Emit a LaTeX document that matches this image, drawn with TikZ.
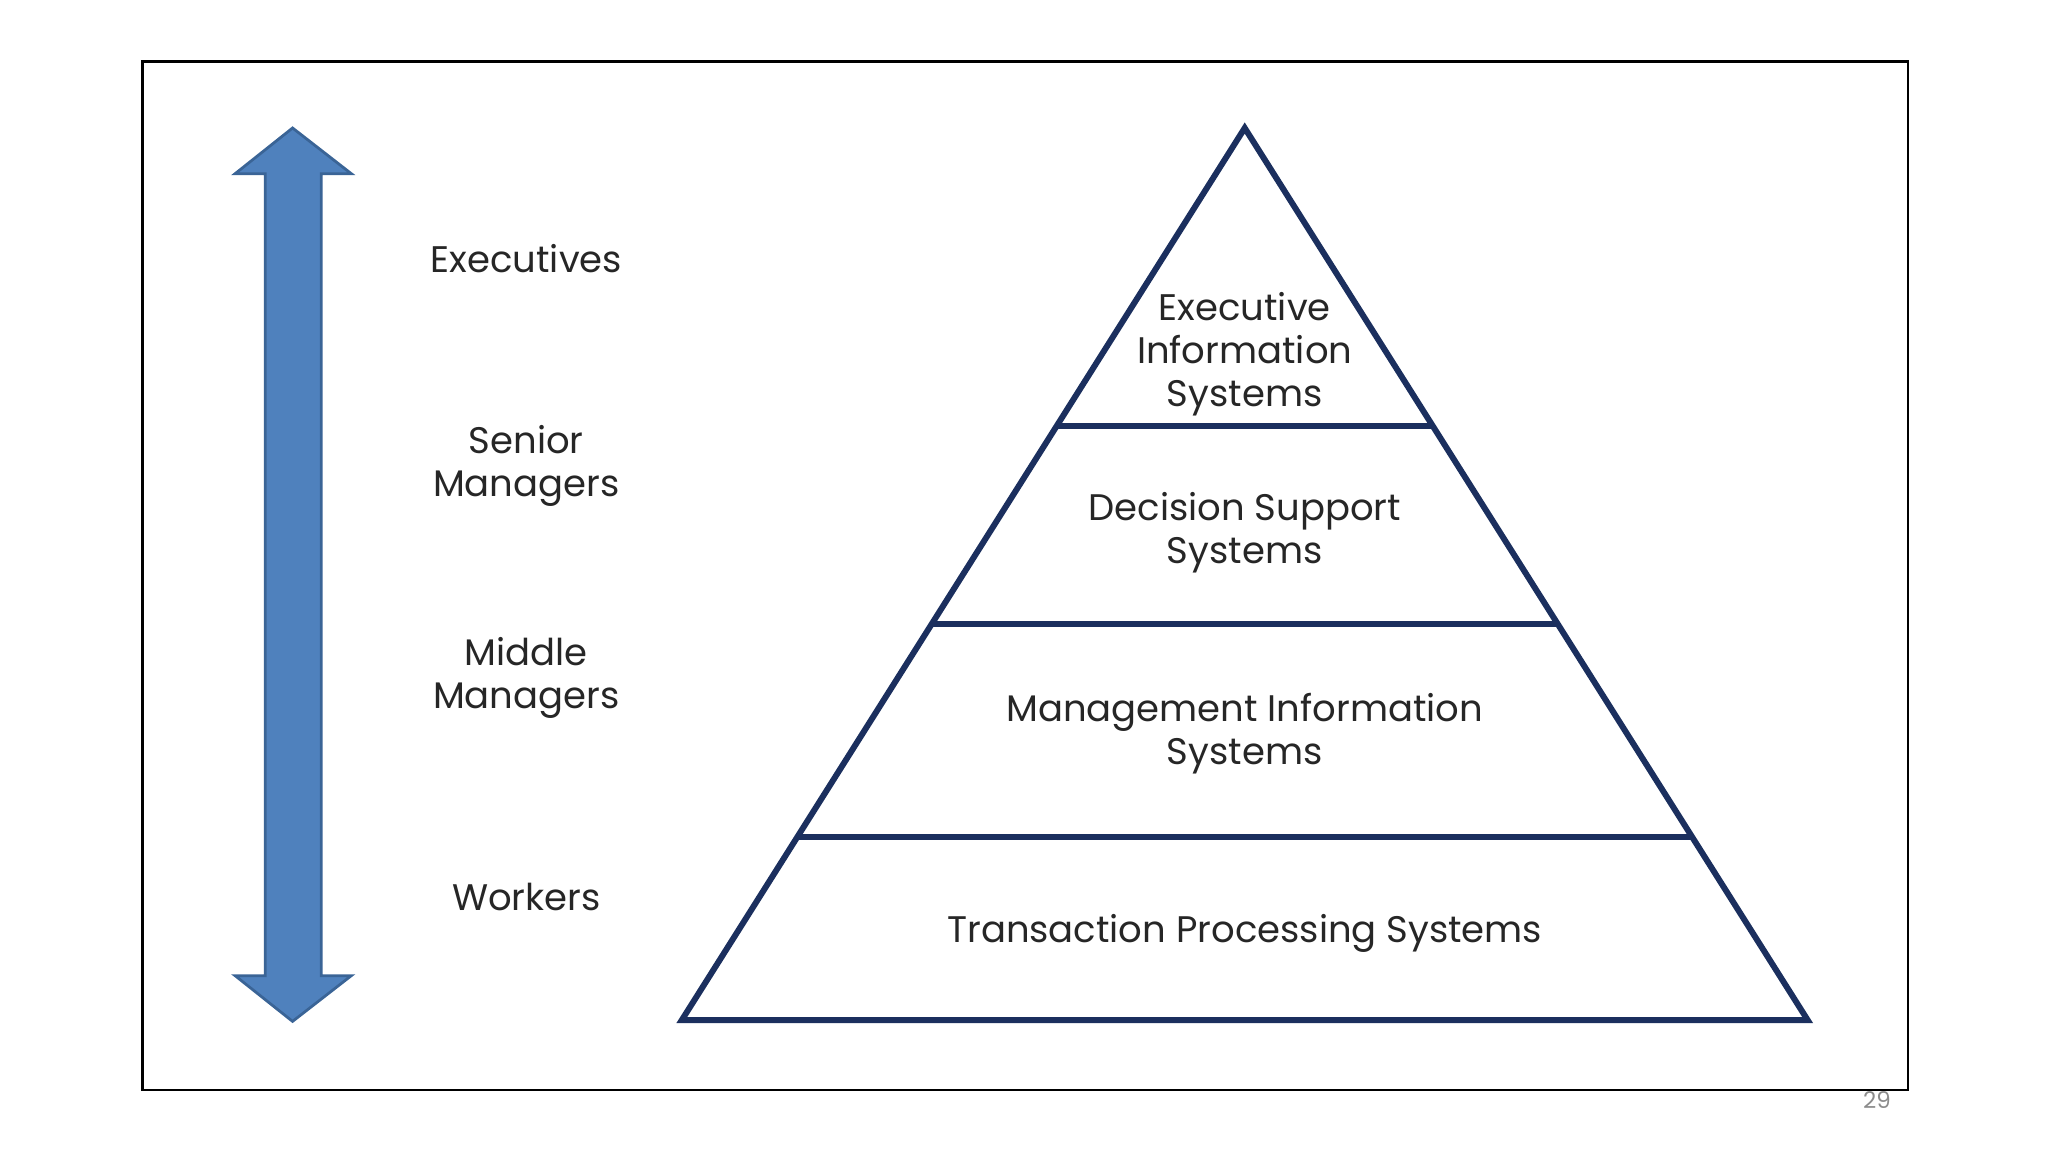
\documentclass[tikz,border=0pt]{standalone}
\usepackage{fontspec}
\setmainfont{Poppins}
\definecolor{navy}{HTML}{1B2F5E}
\definecolor{arrfill}{HTML}{4F81BD}
\definecolor{arrdraw}{HTML}{3A6496}
\begin{document}
\begin{tikzpicture}[x=0.01cm,y=-0.01cm,
  lbl/.style={align=center,font=\fontsize{8.05}{9.4}\selectfont,text=black!85},
  tier/.style={draw=navy,line width=1.3pt}]
\useasboundingbox (0,0) rectangle (1568,882);
\node[draw=black,line width=0.6pt,minimum width=13.51cm,minimum height=7.87cm,anchor=north west] (frame) at (108,46) {};
\node[text=black!45,font=\fontsize{5}{6}\selectfont] (pg) at (1437,842) {29};
% double arrow
\filldraw[fill=arrfill,draw=arrdraw,line width=0.6pt]
 (224,98) -- (269,133) -- (246,133) -- (246,747) -- (269,747) -- (224,782) -- (180,747) -- (203,747) -- (203,133) -- (180,133) -- cycle;
\node[lbl] (exec) at (403,198) {Executives};
\node[lbl] (senior) at (403,357) {Senior\\Managers};
\node[lbl] (middle) at (403,519) {Middle\\Managers};
\node[lbl] (workers) at (403,687) {Workers};
% pyramid
\coordinate (apex) at (953,98);
\coordinate (bl) at (522,781);
\coordinate (br) at (1384,781);
\draw[tier,line join=miter] (apex) -- (br) -- (bl) -- cycle;
\coordinate (l1) at (809,326); \coordinate (r1) at (1097,326);
\coordinate (l2) at (713,478); \coordinate (r2) at (1193,478);
\coordinate (l3) at (610,641); \coordinate (r3) at (1296,641);
\draw[tier] (l1) -- (r1);
\draw[tier] (l2) -- (r2);
\draw[tier] (l3) -- (r3);
\node[lbl] (eis) at (953,271) {Executive\\Information\\Systems};
\node[lbl] (dss) at (953,408) {Decision Support\\Systems};
\node[lbl] (mis) at (953,562) {Management Information\\Systems};
\node[lbl] (tps) at (953,715) {Transaction Processing Systems};
\end{tikzpicture}
\end{document}
